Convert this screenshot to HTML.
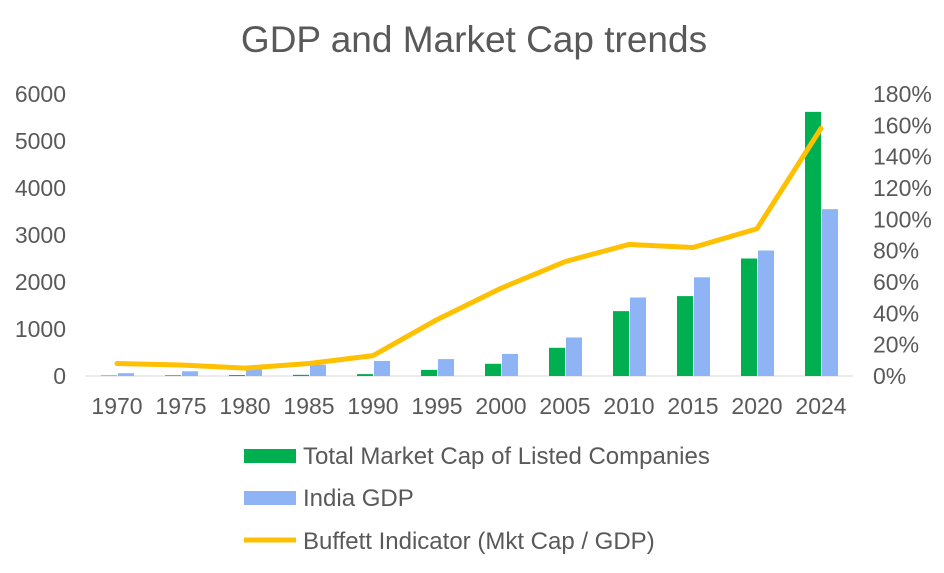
<!DOCTYPE html>
<html><head><meta charset="utf-8"><style>
body{margin:0;background:#fff;font-family:"Liberation Sans",Arial,sans-serif;}
svg text{font-family:"Liberation Sans",Arial,sans-serif;fill:#595959;}
</style></head><body>
<svg id="chart" width="944" height="568">
<text x="474" y="52" font-size="37" text-anchor="middle">GDP and Market Cap trends</text>
<g id="axes"></g><g id="bars"></g><g id="line"></g>
<g>
<g><rect x="244" y="449" width="52" height="14" fill="#00b050"/><text x="303" y="464" font-size="24">Total Market Cap of Listed Companies</text></g>
<g><rect x="244" y="491" width="52" height="14" fill="#8fb4f6"/><text x="303" y="506" font-size="24">India GDP</text></g>
<g><line x1="244" y1="540" x2="296" y2="540" stroke="#ffc000" stroke-width="5"/><text x="303" y="549" font-size="24">Buffett Indicator (Mkt Cap / GDP)</text></g>
</g>
</svg>
<script>
const categories=["1970","1975","1980","1985","1990","1995","2000","2005","2010","2015","2020","2024"];
const marketCap=[10,15,20,25,40,130,260,600,1380,1700,2500,5620];
const gdp=[60,100,190,240,320,360,470,820,1670,2100,2670,3550];
const buffett=[8,7,5,8,13,36,56,73,84,82,94,158];
const leftTicks=[0,1000,2000,3000,4000,5000,6000];
const rightTicks=[0,20,40,60,80,100,120,140,160,180];
const NS="http://www.w3.org/2000/svg";
const X0=85,X1=853,Y0=376,Y1=94;
const band=(X1-X0)/categories.length;
const xc=i=>X0+band*(i+0.5);
const yL=v=>Y0-(v/6000)*(Y0-Y1);
const yR=v=>Y0-(v/180)*(Y0-Y1);
function mk(t,a,p){const e=document.createElementNS(NS,t);for(const k in a)e.setAttribute(k,a[k]);p.appendChild(e);return e;}
const axes=document.getElementById('axes');
leftTicks.forEach(v=>{
 const t=mk('text',{x:66,y:yL(v)+8,'font-size':23,'text-anchor':'end'},axes);t.textContent=v;
 
 
});
rightTicks.forEach(v=>{
 const t=mk('text',{x:873,y:yR(v)+8,'font-size':23},axes);t.textContent=v+'%';
 
 
});
const ax=mk('line',{x1:X0,y1:Y0,x2:X1,y2:Y0,stroke:'#d9d9d9','stroke-width':1},axes);


categories.forEach((c,i)=>{
 const t=mk('text',{x:xc(i),y:Y0+38,'font-size':23,'text-anchor':'middle'},axes);t.textContent=c;
 
 
});
const bars=document.getElementById('bars');
const bw=16;
categories.forEach((c,i)=>{
 const g=mk('rect',{x:xc(i)-bw,y:yL(marketCap[i]),width:bw,height:Y0-yL(marketCap[i]),fill:'#00b050'},bars);
 
 
 const b=mk('rect',{x:xc(i)+1,y:yL(gdp[i]),width:bw,height:Y0-yL(gdp[i]),fill:'#8fb4f6'},bars);
 
 
});
const pts=buffett.map((v,i)=>xc(i)+','+yR(v)).join(' ');
const pl=mk('polyline',{points:pts,fill:'none',stroke:'#ffc000','stroke-width':5,'stroke-linejoin':'round','stroke-linecap':'round'},document.getElementById('line'));


</script>
</body></html>
